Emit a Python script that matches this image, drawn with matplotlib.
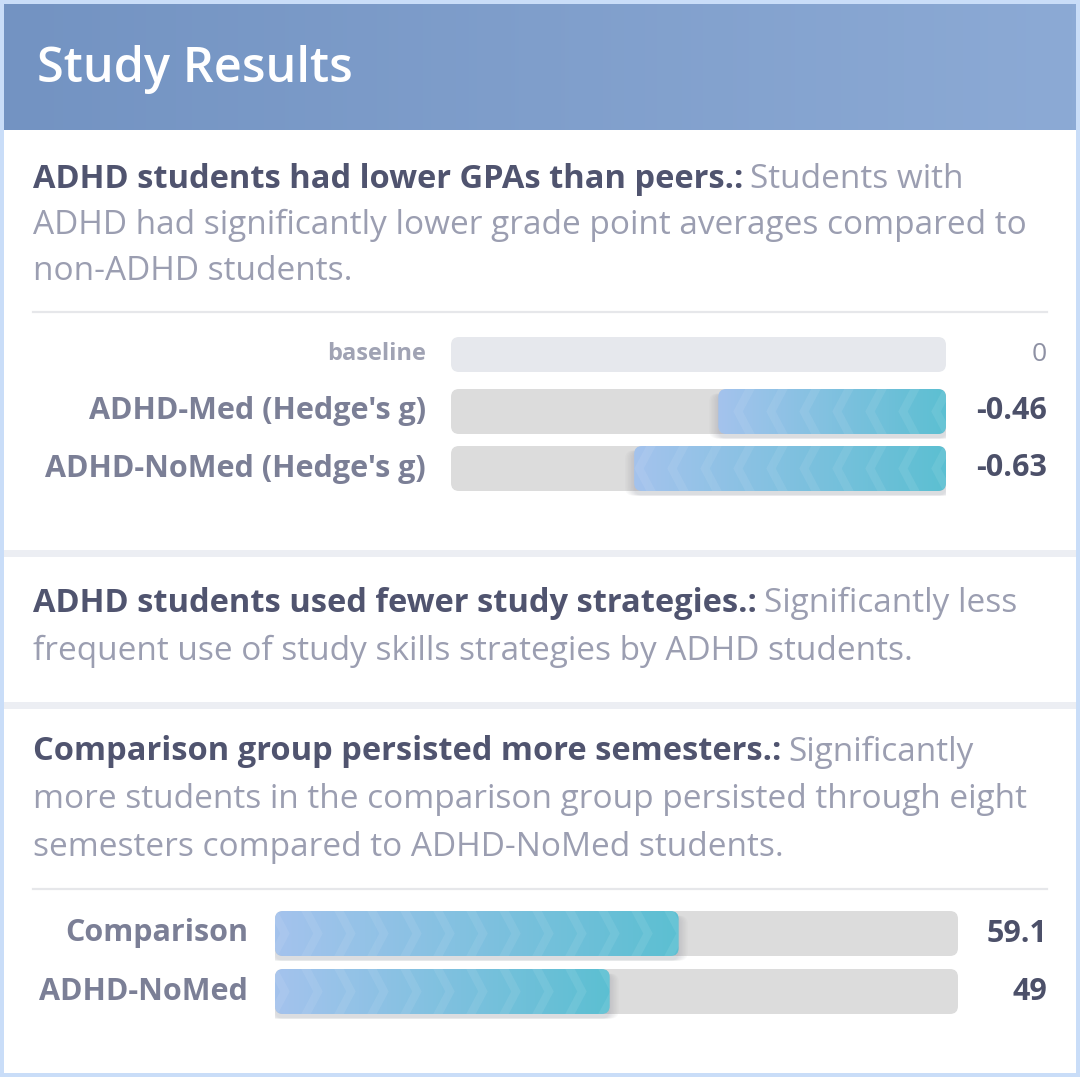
import numpy as np
import matplotlib
matplotlib.use("Agg")
import matplotlib.pyplot as plt
from matplotlib.patches import FancyBboxPatch, Rectangle
from matplotlib.colors import to_rgb

plt.rcParams['font.family'] = ['Open Sans', 'DejaVu Sans']

# ---- data ----
title = "Study Results"

gpa_labels = ["baseline", "ADHD-Med (Hedge's g)", "ADHD-NoMed (Hedge's g)"]
gpa_values = [0, -0.46, -0.63]
gpa_domain = (-1.0, 0.0)

persist_labels = ["Comparison", "ADHD-NoMed"]
persist_values = [59.1, 49]
persist_domain = (0, 100)

sections = [
    ("ADHD students had lower GPAs than peers.:",
     ["Students with", "ADHD had significantly lower grade point averages compared to",
      "non-ADHD students."]),
    ("ADHD students used fewer study strategies.:",
     ["Significantly less", "frequent use of study skills strategies by ADHD students."]),
    ("Comparison group persisted more semesters.:",
     ["Significantly", "more students in the comparison group persisted through eight",
      "semesters compared to ADHD-NoMed students."]),
]

W, H = 1080, 1077
DPI = 100
fig = plt.figure(figsize=(W / DPI, H / DPI), dpi=DPI)
fig.patch.set_facecolor("#c9ddf8")

bg = fig.add_axes([0, 0, 1, 1])
bg.set_xlim(0, W)
bg.set_ylim(H, 0)
bg.axis("off")

# panel
bg.add_patch(Rectangle((4, 4), W - 8, H - 8, facecolor="white", edgecolor="none"))
# header gradient
hgrad = np.linspace(0, 1, 256)
c1, c2 = np.array(to_rgb("#7393c2")), np.array(to_rgb("#8caad5"))
himg = (c1[None, :] * (1 - hgrad[:, None]) + c2[None, :] * hgrad[:, None])[None, :, :]
bg.imshow(himg, extent=(4, W - 4, 130, 4), aspect="auto", zorder=1)
bg.set_xlim(0, W)
bg.set_ylim(H, 0)
bg.text(37, 69, title, color="white", fontsize=35, fontweight="semibold", va="center", ha="left", zorder=3)

# section separators
for y0 in (550, 702):
    bg.add_patch(Rectangle((4, y0), W - 8, 7, facecolor="#eceef3", edgecolor="none", zorder=2))
# thin dividers
for y0 in (312, 889):
    bg.plot([33, 1047], [y0, y0], color="#e6e7ea", lw=1.6, zorder=2)

HEAD_C = "#50546f"
DESC_C = "#9b9eb1"
FS = 24

fig.canvas.draw()
renderer = fig.canvas.get_renderer()

line_y = [[179, 225, 271], [603, 651], [752, 799, 847]]
for (head, lines), ys in zip(sections, line_y):
    t = bg.text(33, ys[0], head, color=HEAD_C, fontsize=FS - 0.5, fontweight="bold",
                va="center", ha="left", zorder=3)
    bb = t.get_window_extent(renderer)
    x_end = bg.transData.inverted().transform((bb.x1, bb.y0))[0]
    bg.text(x_end + 7, ys[0], lines[0], color=DESC_C, fontsize=FS, va="center", ha="left", zorder=3)
    for ln, y in zip(lines[1:], ys[1:]):
        bg.text(33, y, ln, color=DESC_C, fontsize=FS, va="center", ha="left", zorder=3)


def px_axes(x0, x1, y0, y1):
    return fig.add_axes([x0 / W, 1 - y1 / H, (x1 - x0) / W, (y1 - y0) / H])


def gradient_bar(ax, xa, xb, yc, h, r_px, aspect, direction, px_per_x):
    # soft shadow below the filled part
    for k in range(7):
        grow = k * 1.5
        sh = FancyBboxPatch((xa - grow / px_per_x, yc - h / 2 + 0.08),
                            (xb - xa) + 2 * grow / px_per_x, h,
                            boxstyle=f"round,pad=0,rounding_size={r_px / px_per_x}",
                            mutation_aspect=aspect, facecolor="#5d6475", alpha=0.03,
                            edgecolor="none", zorder=2)
        ax.add_patch(sh)
    clip = FancyBboxPatch((xa, yc - h / 2), xb - xa, h,
                          boxstyle=f"round,pad=0,rounding_size={r_px / px_per_x}",
                          mutation_aspect=aspect, facecolor="none", edgecolor="none", zorder=3)
    ax.add_patch(clip)
    g = np.linspace(0, 1, 256)
    ca, cb = np.array(to_rgb("#a4c3ed")), np.array(to_rgb("#5cbfd2"))
    img = (ca[None, :] * (1 - g[:, None]) + cb[None, :] * g[:, None])[None, :, :]
    im = ax.imshow(img, extent=(xa, xb, yc + h / 2, yc - h / 2), aspect="auto", zorder=3)
    im.set_clip_path(clip)
    # chevrons
    step = 33 / px_per_x
    w = 12 / px_per_x
    if direction < 0:
        xs = np.arange(xb - 10 / px_per_x, xa - step, -step)
        for x in xs:
            ln, = ax.plot([x + w, x, x + w], [yc - h / 2, yc, yc + h / 2], color="white",
                          alpha=0.08, lw=6, solid_joinstyle="miter", zorder=4)
            ln.set_clip_path(clip)
    else:
        xs = np.arange(xa + 10 / px_per_x, xb + step, step)
        for x in xs:
            ln, = ax.plot([x - w, x, x - w], [yc - h / 2, yc, yc + h / 2], color="white",
                          alpha=0.08, lw=6, solid_joinstyle="miter", zorder=4)
            ln.set_clip_path(clip)


def bar_chart(ax, labels, values, domain, ax_px, heights, track_cols, label_styles,
              val_styles, label_off, val_off, direction):
    x0p, x1p, y0p, y1p = ax_px
    n = len(values)
    ax.set_xlim(*domain)
    ax.set_ylim(n - 0.5, -0.5)
    ax.axis("off")
    px_per_x = (x1p - x0p) / (domain[1] - domain[0])
    px_per_y = (y1p - y0p) / n
    aspect = px_per_x / px_per_y
    r_px = 8
    for i, (lab, v) in enumerate(zip(labels, values)):
        h = heights[i]
        track = FancyBboxPatch((domain[0], i - h / 2), domain[1] - domain[0], h,
                               boxstyle=f"round,pad=0,rounding_size={r_px / px_per_x}",
                               mutation_aspect=aspect, facecolor=track_cols[i],
                               edgecolor="none", zorder=1)
        ax.add_patch(track)
        if v != 0:
            if direction < 0:
                gradient_bar(ax, v, domain[1], i, h, r_px, aspect, -1, px_per_x)
            else:
                gradient_bar(ax, domain[0], v, i, h, r_px, aspect, 1, px_per_x)
        ax.annotate(lab, xy=(0, i), xycoords=ax.get_yaxis_transform(),
                    xytext=(-label_off * 0.72, 0), textcoords="offset points",
                    ha="right", va="center", annotation_clip=False, **label_styles[i])
        txt = f"{v:g}"
        ax.annotate(txt, xy=(1, i), xycoords=ax.get_yaxis_transform(),
                    xytext=(val_off * 0.72, 0), textcoords="offset points",
                    ha="right", va="center", annotation_clip=False, **val_styles[i])
    ax.set_xlim(*domain)
    ax.set_ylim(n - 0.5, -0.5)


LAB_BOLD = dict(fontsize=22, fontweight="bold", color="#7b7f96")
LAB_SMALL = dict(fontsize=17, fontweight="bold", color="#a0a3b4")
VAL_BOLD = dict(fontsize=22, fontweight="bold", color="#4c5069")
VAL_SMALL = dict(fontsize=19, color="#8e91a4")

ax1_px = (451, 946, 326, 497)
ax1 = px_axes(*ax1_px)
bar_chart(ax1, gpa_labels, gpa_values, gpa_domain, ax1_px,
          heights=[35 / 57, 45 / 57, 45 / 57],
          track_cols=["#e6e8ed", "#dcdcdc", "#dcdcdc"],
          label_styles=[LAB_SMALL, LAB_BOLD, LAB_BOLD],
          val_styles=[VAL_SMALL, VAL_BOLD, VAL_BOLD],
          label_off=25, val_off=101, direction=-1)

ax2_px = (275, 958, 904.5, 1020.5)
ax2 = px_axes(*ax2_px)
bar_chart(ax2, persist_labels, persist_values, persist_domain, ax2_px,
          heights=[45 / 58, 45 / 58],
          track_cols=["#dcdcdc", "#dcdcdc"],
          label_styles=[LAB_BOLD, LAB_BOLD],
          val_styles=[VAL_BOLD, VAL_BOLD],
          label_off=27, val_off=89, direction=1)

fig.savefig("out.png", dpi=DPI, facecolor=fig.get_facecolor())
